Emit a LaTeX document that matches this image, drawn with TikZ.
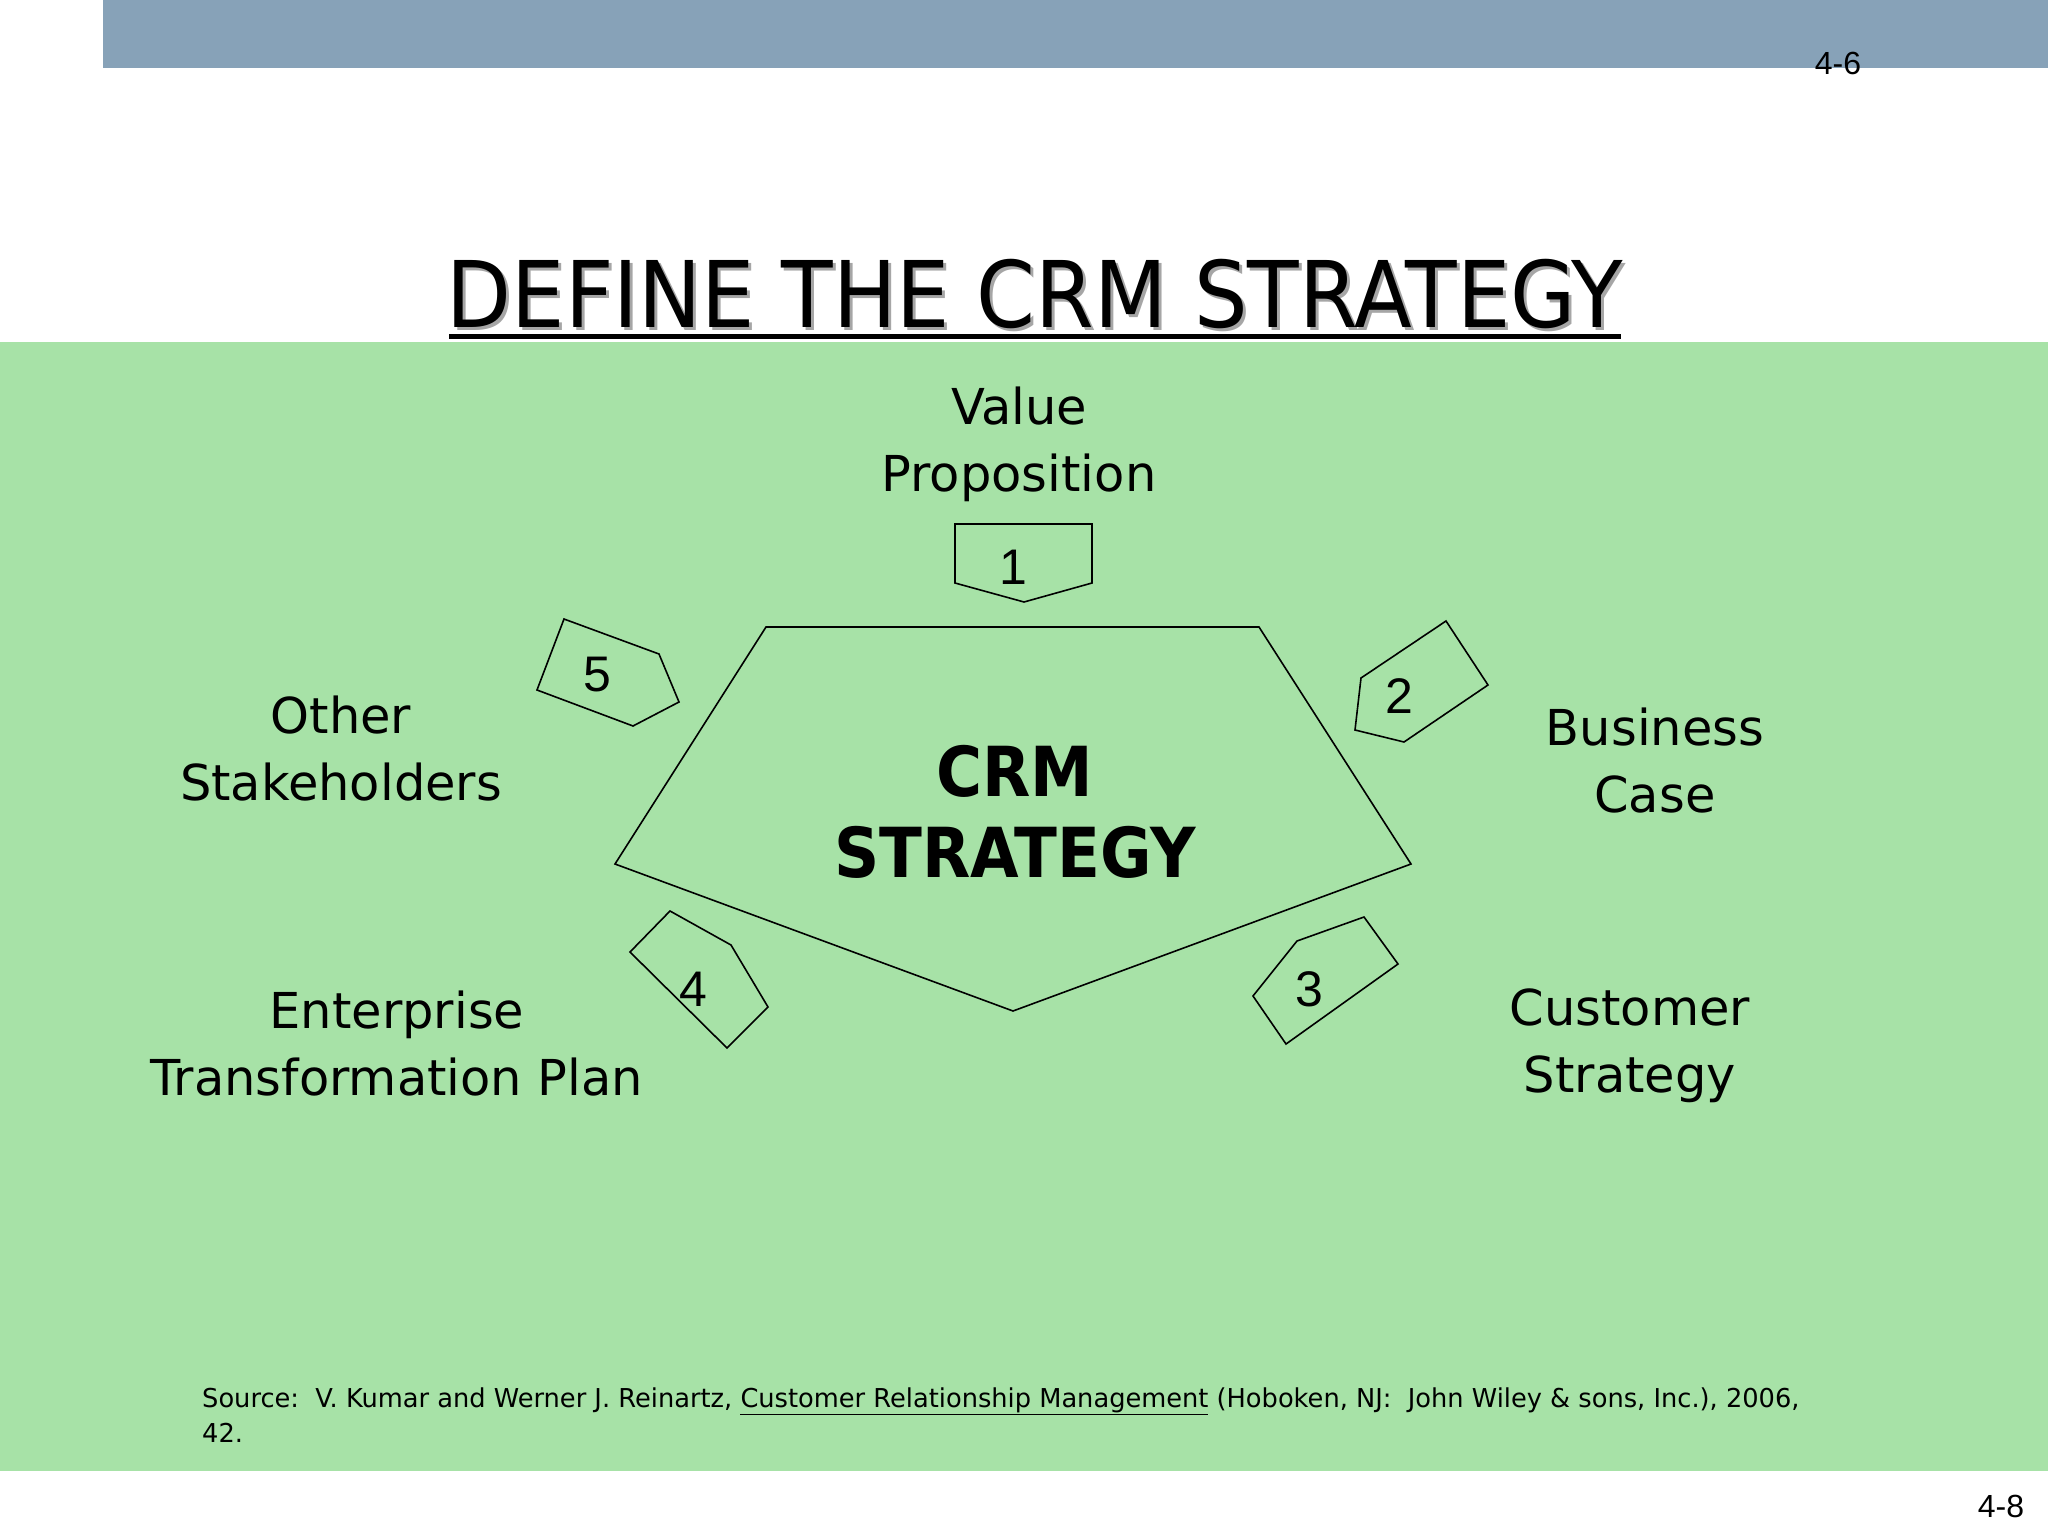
\documentclass[tikz,border=0pt]{standalone}
\usepackage{fontspec}
\setmainfont{DejaVu Sans}
\newfontfamily\titlefont[FakeStretch=0.917]{DejaVu Sans}
\newfontfamily\crmfont[FakeStretch=0.91]{DejaVu Sans}
\newfontfamily\srcfont[FakeStretch=0.988]{DejaVu Sans}
\newfontfamily\numfont{Liberation Sans}
\definecolor{barblue}{HTML}{87A2B8}
\definecolor{slidegreen}{HTML}{A7E2A7}
\tikzset{
  label text/.style={anchor=base, align=center, inner sep=0pt,
    font=\fontsize{49.5}{67}\selectfont},
  tab/.style={draw=black, line width=1.6pt, line join=miter},
  tab num/.style={inner sep=0pt, font=\numfont\fontsize{50}{50}\selectfont},
  page num/.style={anchor=base, inner sep=0pt, font=\numfont\fontsize{32}{32}\selectfont},
}
\begin{document}
\begin{tikzpicture}[x=1pt,y=-1pt]
\useasboundingbox (0,0) rectangle (2048,1536);
\fill[white] (0,0) rectangle (2048,1536);
\fill[barblue] (103,0) rectangle (2048,68);
\fill[slidegreen] (0,342) rectangle (2048,1471);

% page numbers
\node[page num] (pg1) at (1838,75) {4-6};
\node[page num] (pg2) at (2001,1517) {4-8};

% title with shadow
\node[anchor=base, inner sep=0pt, text=black!35, font=\titlefont\fontsize{92}{92}\selectfont] (titleshadow) at (1038,330) {DEFINE THE CRM STRATEGY};
\node[anchor=base, inner sep=0pt, font=\titlefont\fontsize{92}{92}\selectfont] (title) at (1035,327) {DEFINE THE CRM STRATEGY};
\fill[black] (449,334) rectangle (1621,339);

% central pentagon
\coordinate (p1) at (766,627);
\coordinate (p2) at (1259,627);
\coordinate (p3) at (1411,864);
\coordinate (p4) at (1013,1011);
\coordinate (p5) at (615,864);
\draw[tab] (p1) -- (p2) -- (p3) -- (p4) -- (p5) -- cycle;
\node[anchor=base, align=center, inner sep=0pt, font=\crmfont\bfseries\fontsize{69}{81}\selectfont] (crm) at (1015,877) {CRM\\STRATEGY};

% tabs
\draw[tab] (955,524) -- (1092,524) -- (1092,583) -- (1024,602) -- (955,583) -- cycle;
\node[tab num] (n1) at (1013,567) {1};
\draw[tab] (1446,621) -- (1488,685) -- (1404,742) -- (1355,730) -- (1361,678) -- cycle;
\node[tab num] (n2) at (1399,696) {2};
\draw[tab] (1364,917) -- (1398,964) -- (1286,1044) -- (1253,996) -- (1297,941) -- cycle;
\node[tab num] (n3) at (1309,989) {3};
\draw[tab] (670,911) -- (731,945) -- (768,1007) -- (727,1048) -- (630,952) -- cycle;
\node[tab num] (n4) at (693,989) {4};
\draw[tab] (564,619) -- (659,654) -- (679,702) -- (633,726) -- (537,690) -- cycle;
\node[tab num] (n5) at (597,675) {5};

% labels (anchor base = baseline of last line)
\node[label text] (vp) at (1019,491) {Value\\Proposition};
\node[label text] (bc) at (1655,812) {Business\\Case};
\node[label text] (cs) at (1630,1092) {Customer\\Strategy};
\node[label text] (etp) at (397,1095) {Enterprise\\Transformation Plan};
\node[label text] (os) at (341,800) {Other\\Stakeholders};

% source
\node[anchor=base west, align=left, inner sep=0pt, font=\srcfont\fontsize{26}{35}\selectfont] (src) at (202,1442)
  {Source:\ \ V. Kumar and Werner J. Reinartz, \underline{Customer Relationship Management} (Hoboken, NJ:\ \ John Wiley \& sons, Inc.), 2006,\\42.};
\end{tikzpicture}
\end{document}
